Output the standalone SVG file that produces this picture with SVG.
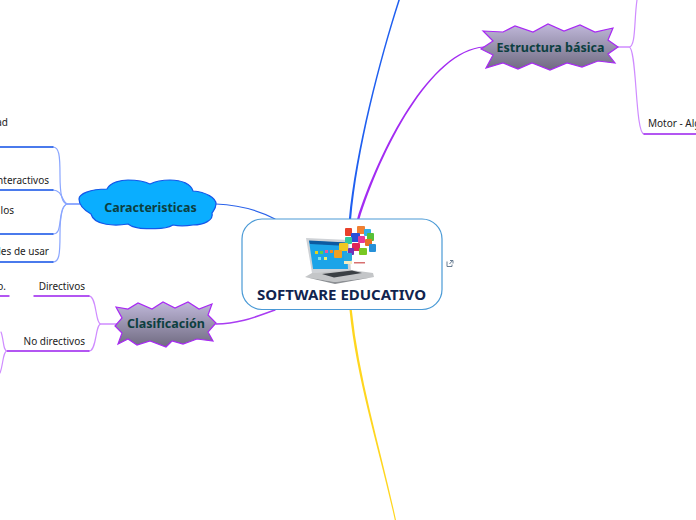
<svg xmlns="http://www.w3.org/2000/svg" width="696" height="520" viewBox="0 0 696 520">
<defs>
<linearGradient id="g" x1="0" y1="0" x2="0" y2="1"><stop offset="0" stop-color="#c0b8da"/><stop offset="1" stop-color="#6f6a80"/></linearGradient>
<filter id="b" x="-5%" y="-5%" width="110%" height="110%"><feGaussianBlur stdDeviation="0.7"/></filter>
</defs>
<style>
text{font-family:"Noto Sans","Open Sans",sans-serif}
.l{font-size:10px;fill:#222}
.t{font-size:12.5px;font-weight:700;fill:#0c3f3f;text-anchor:middle}
.c{fill:none;stroke-linecap:round}
.bl{stroke:#8aa6ff;stroke-width:1.2}
.bd{stroke:#0f4fe6;stroke-width:1.4}
.pl{stroke:#cf8cff;stroke-width:1.2}
.pd{stroke:#9a1fee;stroke-width:1.4}
.s{fill:url(#g);stroke:#a828f4;stroke-width:1.2}
.i{stroke:none}
</style>
<g id="connectors">
<path d="M348.800 220C355.500 150 379.200 60 398.300 0H399.900C380.500 60 357 150 351 220Z" fill="#1f5ff0"/>
<path d="M356.800 220C379 150 430 49.500 484 46.600V47.400C431 51 381 150 359.200 220Z" fill="#a32cf2"/>
<path d="M349.500 310C356.500 380 379.500 450 394.800 520H396C381 450 359 380 351.800 310Z" fill="#ffd61f"/>
<path class="c" d="M216 204C240 205 258 210 275 219" stroke="#2a62ea" stroke-width="1.200"/>
<path class="c" d="M216 324C240 324 258 316 275 310" stroke="#a93cf2" stroke-width="1.500"/>
<path class="c bl" d="M80 204H68C62 204 60 195 60 175C60 155 59 147 53 147"/>
<path class="c bl" d="M80 204H68C62 204 63 190 53 190"/>
<path class="c bl" d="M80 204H68C62 204 61 215 60 222C59 230 58 234 53 234"/>
<path class="c bl" d="M80 204H68C62 204 60 215 60 235C60 255 59 262 53 262"/>
<path class="c bd" d="M0 147H53M0 190H53M0 234H53M0 262H53"/>
<path class="c pl" d="M117 324H101C95 324 97 296 89 296"/>
<path class="c pl" d="M117 324H101C95 324 97 351 89 351"/>
<path class="c pd" d="M34 296H89M0 296H9M7 351H89"/>
<path class="c pl" d="M1 332C4 340 3 351 7 351C3 351 3 366 0 373"/>
<path class="c pl" d="M618 47H629C636 47 634 20 637 0"/>
<path class="c pl" d="M618 47H629C637 47 635 134 644 134"/>
<path class="c pd" d="M644 134H696"/>
</g>
<g id="root">
<rect x="242" y="219" width="200" height="90.500" rx="20" fill="#fff" stroke="#4a9ad6" stroke-width="1.200"/>
<g filter="url(#b)">
<path d="M306 238L349 240L351 272L312 273Z" fill="#cfd2d6"/>
<path d="M309 241L347 243L348 269L313 269Z" fill="#1fa4e8"/>
<path d="M309 240.500L347 242.500V246L310 244Z" fill="#0d5aa0"/>
<path d="M312 273L351 270L373 273L374 277L335 282L305 277Z" fill="#c4c6c8"/>
<path d="M322 274L352 270.500L362 273L334 277.500Z" fill="#3b3f45"/>
<path d="M305 277L335 282L374 277L335 284Z" fill="#8d9094"/>
<rect class="i" x="315" y="251" width="3" height="3" fill="#e8d21a"/><rect class="i" x="320" y="251" width="3" height="3" fill="#5cd04a"/><rect class="i" x="325" y="250" width="3" height="3" fill="#e85a9a"/><rect class="i" x="330" y="250" width="3" height="3" fill="#f08a20"/>
<rect class="i" x="318" y="257" width="3" height="3" fill="#7fe0f0"/><rect class="i" x="324" y="257" width="3" height="3" fill="#e8f070"/>
<rect class="i" x="345" y="228" width="7" height="8" rx="1" fill="#e8402a"/>
<rect class="i" x="357" y="226" width="8" height="8" rx="1" fill="#f08030"/>
<rect class="i" x="364" y="229" width="7" height="7" rx="1" fill="#30b0e8"/>
<rect class="i" x="351" y="233" width="9" height="9" rx="1" fill="#2a50d8"/>
<rect class="i" x="367" y="233" width="7" height="8" rx="1" fill="#58c038"/>
<rect class="i" x="345" y="237" width="7" height="7" rx="1" fill="#30c8a0"/>
<rect class="i" x="358" y="236" width="7" height="7" rx="1" fill="#e83898"/>
<rect class="i" x="365" y="239" width="7" height="7" rx="1" fill="#e87028"/>
<rect class="i" x="339" y="243" width="9" height="8" rx="1" fill="#f0c820"/>
<rect class="i" x="352" y="243" width="8" height="8" rx="1" fill="#e02858"/>
<rect class="i" x="369" y="244" width="7" height="8" rx="1" fill="#2890d8"/>
<rect class="i" x="348" y="248" width="6" height="7" rx="1" fill="#7030b8"/>
<rect class="i" x="359" y="248" width="8" height="7" rx="1" fill="#78c820"/>
<rect class="i" x="334" y="250" width="8" height="8" rx="1" fill="#f0a020"/>
<rect class="i" x="344" y="253" width="8" height="8" rx="1" fill="#28a8e0"/>
<rect class="i" x="344" y="261" width="8" height="3" fill="#f4ecc0"/>
<rect class="i" x="354" y="262" width="11" height="1.500" fill="#d87070"/>
</g>
<text x="341.500" y="300" font-size="15" font-weight="700" fill="#11244f" text-anchor="middle">SOFTWARE EDUCATIVO</text>
<path d="M447 261.500v5h5v-2M449.500 264l3-3.500M450 260.500h3v3" fill="none" stroke="#5a7088" stroke-width="0.900"/>
</g>
<g id="caracteristicas">
<path d="M79 199C79 194 90 189 107 189C110 182 122 180 128 180C138 180 146 182 150 184C156 181 164 180 170 180C182 180 191 184 193 191C206 192 216 198 216 204C216 208 214 210 212 213C214 220 204 225 193 225C186 226 178 226 173 225C168 228 158 229 150 228.500C140 229 132 227 128 224C116 226 94 226 91 214C84 210 79 205 79 199Z" fill="#0aaeff" stroke="#1457ea" stroke-width="1.200"/>
<text class="t" x="150.500" y="212">Caracteristicas</text>
</g>
<g id="clasificacion">
<path class="s" d="M116 307L128 309L138 303L152 309L163 302L175 308L188 302L199 309L212 304L208 315L216 323L208 332L213 341L197 339L183 344L172 341L166 347L150 341L137 345L128 339L118 344L122 333L115 326L122 318Z"/>
<text class="t" x="166" y="328">Clasificación</text>
</g>
<g id="estructura">
<path class="s" d="M483 31L503 32L515 26L533 32L548 24L564 31L580 25L595 32L613 28L608 40L618 47L608 54L615 63L598 61L582 67L567 63L550 70L532 63L518 69L503 63L486 68L493 55L481 49L493 41Z"/>
<text class="t" x="550.500" y="52">Estructura básica</text>
</g>
<g id="n1"><text class="l" x="8" y="126" text-anchor="end">ad</text></g>
<g id="n2"><text class="l" x="49" y="184" text-anchor="end">interactivos</text></g>
<g id="n3"><text class="l" x="14" y="214" text-anchor="end">los</text></g>
<g id="n4"><text class="l" x="49" y="255" text-anchor="end">les de usar</text></g>
<g id="n5"><text class="l" x="6" y="290" text-anchor="end">o.</text></g>
<g id="n6"><text class="l" x="85" y="290" text-anchor="end">Directivos</text></g>
<g id="n7"><text class="l" x="85" y="345" text-anchor="end">No directivos</text></g>
<g id="n8"><text class="l" x="648" y="127">Motor - Algoritmos</text></g>
</svg>
